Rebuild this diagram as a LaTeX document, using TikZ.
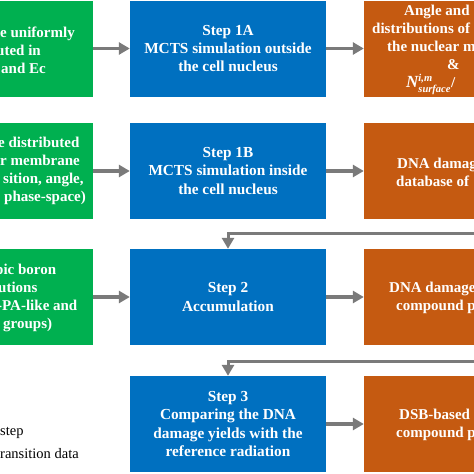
\documentclass[tikz,border=0pt]{standalone}
\usepackage{amsmath}
\usepackage{fontspec}
\setmainfont{Liberation Serif}
\usetikzlibrary{arrows.meta}

\definecolor{stepblue}{HTML}{0070C0}
\definecolor{ingreen}{HTML}{00B050}
\definecolor{outorange}{HTML}{C55A11}
\definecolor{linkgray}{HTML}{7A7A7A}

\newcommand{\stepfont}{\fontsize{15.3}{18.3}\selectfont\bfseries}
\newcommand{\sidefont}{\fontsize{15}{18}\selectfont\bfseries}

\tikzset{
  box/.style = {rectangle, minimum width = 196pt, minimum height = 96pt, inner sep = 0pt},
  stepbox/.style = {box, fill = stepblue, text = white, align = center, font = \stepfont},
  inbox/.style = {box, fill = ingreen},
  outbox/.style = {box, fill = outorange},
  boxtext/.style = {anchor = west, inner sep = 0pt, text = white, align = left, font = \sidefont},
  legendtext/.style = {anchor = west, inner sep = 0pt, font = \fontsize{14.5}{17}\selectfont},
  link/.style = {draw = linkgray, line width = 3.5pt, -{Triangle[length = 11pt, width = 12pt]}},
  feedback/.style = {link, line width = 3pt}
}

\begin{document}
\begin{tikzpicture}[x = 1pt, y = 1pt]
\useasboundingbox (0,0) rectangle (474,-474);
\clip (0,0) rectangle (474,-474);
% steps
\draw (228,-48.5) node[stepbox, name = s1a]{Step 1A\\MCTS simulation outside\\the cell nucleus};
\draw (s1a) + (0,-122.5) node[stepbox, name = s1b]{Step 1B\\MCTS simulation inside\\the cell nucleus};
\draw (s1b) + (0,-126) node[stepbox, name = s2]{Step 2\\Accumulation};
\draw (s2) + (0,-127) node[stepbox, name = s3]{Step 3\\Comparing the DNA\\damage yields with the\\reference radiation};
% inputs
\draw (s1a) + (-233,0) node[inbox, name = in1]{};
\draw (s1b) + (-233,0) node[inbox, name = in2]{};
\draw (s2) + (-233,0) node[inbox, name = in3]{};
% outputs
\draw (s1a) + (234,0) node[outbox, name = out1]{};
\draw (s1b) + (234,0) node[outbox, name = out2]{};
\draw (s2) + (234,0) node[outbox, name = out3]{};
\draw (s3) + (234,0) node[outbox, name = out4]{};
% texts of the cut boxes
\draw (0,-50) node[boxtext, name = in1txt]{e uniformly\\\hspace*{-4pt}uted in\\\hspace*{1pt}and Ec};
\draw (0,-171) node[boxtext, name = in2txt]{\hspace*{-2pt}e distributed\\r membrane\\\hspace*{3pt}sition, angle,\\\hspace*{4pt}phase-space)};
\draw (0,-298) node[boxtext, name = in3txt]{\hspace*{-5pt}pic boron\\\hspace*{-2pt}utions\\\hspace*{-3pt}-PA-like and\\\hspace*{3pt}groups)};
\draw (372,-50) node[boxtext, name = out1txt]{\hspace*{32pt}Angle and\\distributions of\\\hspace*{15pt}the nuclear m\\\hspace*{75pt}\&\\\hspace*{34pt}{\fontsize{17}{18}\selectfont\itshape N}$^{\textit{i,m}}_{\textit{surface}}$/};
\draw (396,-172) node[boxtext, name = out2txt]{\hspace*{1pt}DNA damag\\database of};
\draw (389,-298) node[boxtext, name = out3txt]{DNA damage\\\hspace*{7pt}compound p};
\draw (396,-425) node[boxtext, name = out4txt]{\hspace*{3pt}DSB-based\\compound p};
% arrows
\draw[link] (in1) -- (s1a);
\draw[link] (s1a) -- (out1);
\draw[link] (in2) -- (s1b);
\draw[link] (s1b) -- (out2);
\draw[link] (in3) -- (s2);
\draw[link] (s2) -- (out3);
\draw[link] (s3) -- (out4);
% loops back from the right
\coordinate (fb2) at (480,-233);
\draw[feedback] (fb2) -| (s2);
\coordinate (fb3) at (480,-361);
\draw[feedback] (fb3) -| (s3);
% legend
\draw (0,-433) node[legendtext, name = lg1]{step};
\draw (0,-454) node[legendtext, name = lg2]{ransition data};
\end{tikzpicture}
\end{document}
